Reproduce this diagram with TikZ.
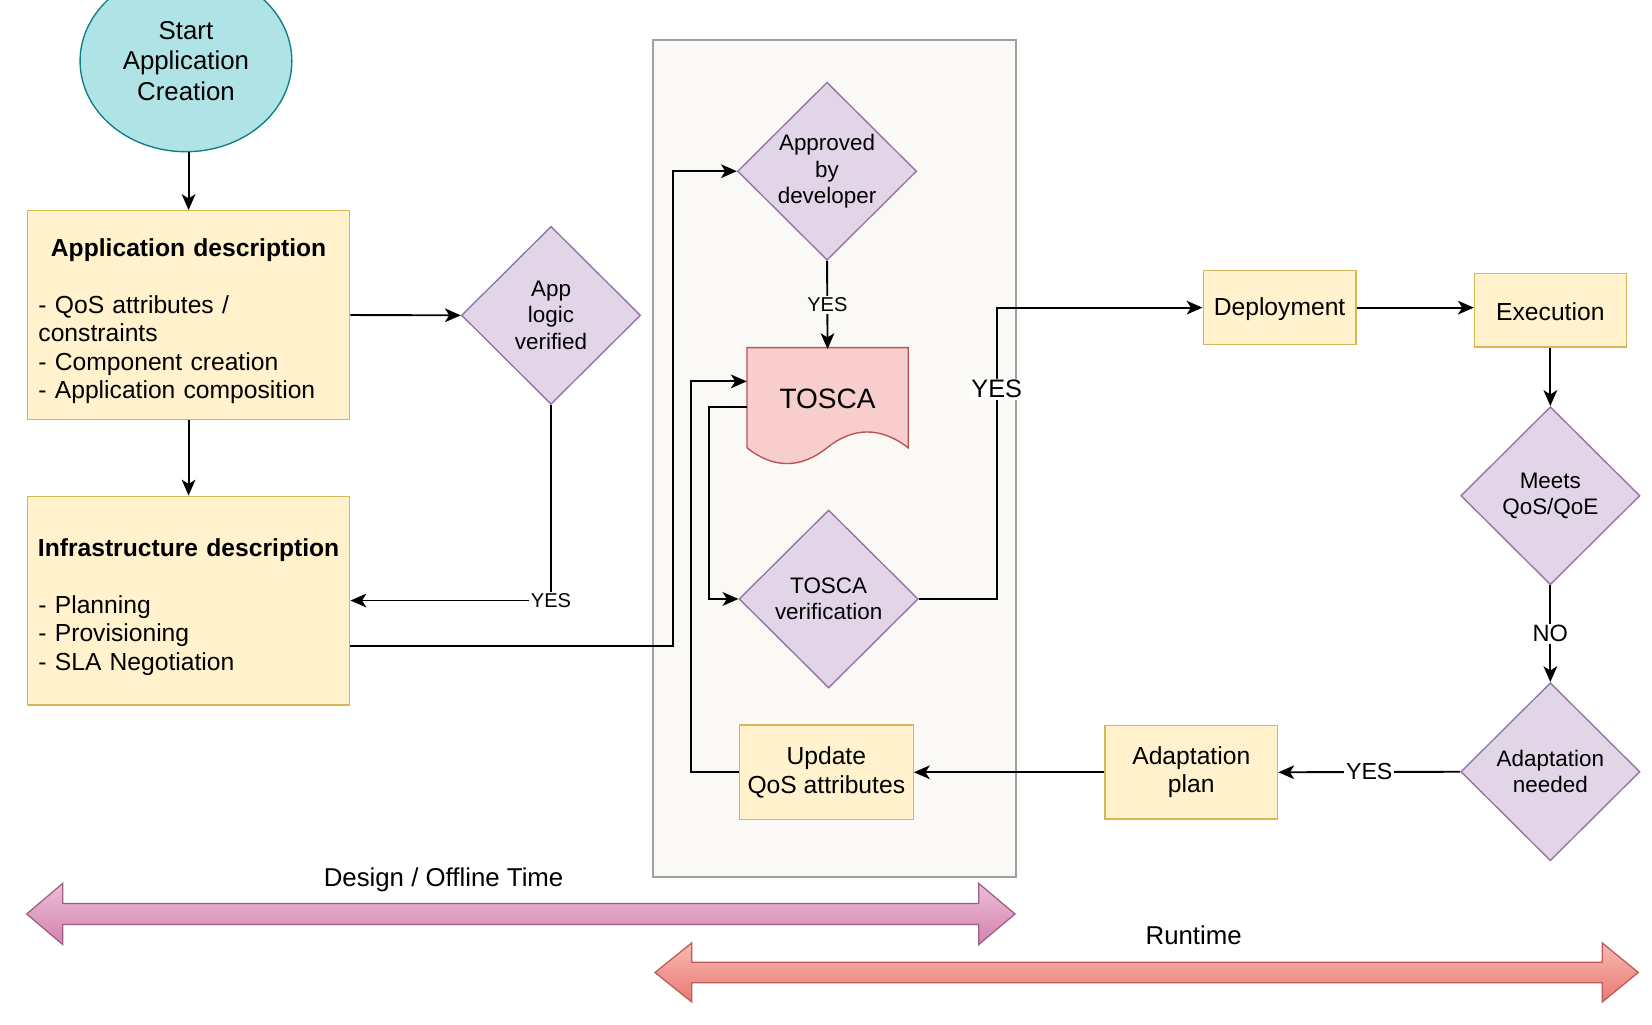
\documentclass[tikz,border=0pt]{standalone}
\usepackage{fontspec}
\setmainfont{Liberation Sans}
\usetikzlibrary{shapes.geometric,arrows.meta}

\definecolor{boxfill}{HTML}{FFF2CC}
\definecolor{boxline}{HTML}{D6B656}
\definecolor{dfill}{HTML}{E1D5E7}
\definecolor{dline}{HTML}{9673A6}
\definecolor{efill}{HTML}{B0E3E6}
\definecolor{eline}{HTML}{0E8088}
\definecolor{tfill}{HTML}{F8CECC}
\definecolor{tline}{HTML}{B85450}
\definecolor{cfill}{HTML}{FAF9F5}
\definecolor{cline}{HTML}{A0A0A0}
\definecolor{dtop}{HTML}{EBBFD7}
\definecolor{dbot}{HTML}{D482AD}
\definecolor{dedge}{HTML}{9E5F86}
\definecolor{rtop}{HTML}{F7B9B1}
\definecolor{rbot}{HTML}{E97974}
\definecolor{redge}{HTML}{C05A58}

\begin{document}
\begin{tikzpicture}[x=1pt,y=-1pt,
  box/.style={draw=boxline, fill=boxfill, line width=1.3pt, inner sep=0pt, align=center, font=\fontsize{23.4}{27}\selectfont},
  dec/.style={diamond, draw=dline, fill=dfill, line width=1.3pt, inner sep=0pt, minimum width=170pt, minimum height=169pt, align=center, font=\fontsize{21.3}{25}\selectfont},
  conn/.style={line width=1.8pt, -{Stealth[length=15pt,width=13pt,inset=4pt]}},
  lbl/.style={fill=white, inner sep=1.5pt, font=\fontsize{19}{22}\selectfont},
  bandlbl/.style={font=\fontsize{24.5}{28}\selectfont},
]
\clip (0,0) rectangle (1568,972);
\fill[white] (0,0) rectangle (1568,972);

% container
\draw[draw=cline, fill=cfill, line width=2pt] (620,38) rectangle (964,832);

% TOSCA document shape
\draw[draw=tline, fill=tfill, line width=1.3pt]
  (709,330) -- (862,330) -- (862,425)
  .. controls (836,405) and (810,405) .. (785,425)
  .. controls (760,445) and (734,445) .. (709,425) -- cycle;
\node[font=\fontsize{26.6}{30}\selectfont, minimum width=153pt, minimum height=95pt, inner sep=0pt] (tosca) at (785.5,379) {TOSCA};

% nodes
\node[ellipse, draw=eline, fill=efill, line width=1.3pt, minimum width=201pt, minimum height=172pt, inner sep=0pt, align=center, font=\fontsize{24.5}{29}\selectfont] (start) at (176.5,58) {Start\\Application\\Creation};

\node[box, minimum width=306pt, minimum height=198pt, text width=285pt, align=left] (appdesc) at (179,299)
  {\makebox[285pt]{\rule{0pt}{29pt}\bfseries Application description}\\[27pt]- QoS attributes /\\constraints\\- Component creation\\- Application composition};

\node[box, minimum width=306pt, minimum height=198pt, text width=285pt, align=left] (infra) at (179,570)
  {\makebox[285pt]{\rule{0pt}{29pt}\bfseries Infrastructure description}\\[27pt]- Planning\\- Provisioning\\- SLA Negotiation};

\node[dec] (applogic) at (523,299.3) {App\\logic\\verified};
\node[dec] (approved) at (785,162.5) {Approved\\by\\developer};
\node[dec] (tverif) at (786.5,568.5) {TOSCA\\verification};
\node[dec] (meets) at (1471.5,470.5) {Meets\\QoS/QoE};
\node[dec] (adapt) at (1471.5,732.5) {Adaptation\\needed};

\node[box, minimum width=165pt, minimum height=90pt] (update) at (784.3,733) {Update\\QoS attributes};
\node[box, minimum width=145pt, minimum height=70pt] (deploy) at (1214.5,292) {\rule{0pt}{19pt}Deployment};
\node[box, minimum width=144pt, minimum height=70pt] (exec) at (1471.5,294.5) {\rule{0pt}{19pt}Execution};
\node[box, minimum width=164pt, minimum height=89pt] (plan) at (1130.7,733) {Adaptation\\plan};

% connectors
\draw[conn] (start.south -| appdesc.north) -- (appdesc.north);
\draw[conn] (appdesc.south) -- (infra.north);
\draw[conn] (appdesc.east) -- (applogic.west);
\draw[conn] (applogic.south) |- node[lbl, pos=0.5] {YES} (infra.east);
\draw[conn] ([yshift=-43pt]infra.east) -- (639,613) |- (approved.west);
\draw[conn] (approved.south) -- node[lbl, fill=cfill, pos=0.5] {YES} (tosca.north);
\draw[conn] (update.west) -- ++(-45,0) |- ([yshift=17pt]tosca.west);
\draw[conn] ([yshift=-7pt]tosca.west) -- ++(-36,0) |- (tverif.west);
\draw[conn] (tverif.east) -- (946,568.5) -- node[lbl, pos=0.72, font=\fontsize{24}{28}\selectfont] {YES} (946,292) -- (deploy.west);
\draw[conn] (deploy.east) -- (deploy.east -| exec.west);
\draw[conn] (exec.south) -- (meets.north);
\draw[conn] (meets.south) -- node[lbl, font=\fontsize{22.4}{26}\selectfont] {NO} (adapt.north);
\draw[conn] (adapt.west) -- node[lbl, font=\fontsize{22}{26}\selectfont] {YES} (plan.east);
\draw[conn] (plan.west) -- (update.east);

% time bands
\path[draw=dedge, line width=1.2pt, top color=dtop, bottom color=dbot]
  (25.3,867.5) -- (59.5,838.5) -- (59.5,857.5) -- (929,857.5) -- (929,838.5) -- (963.4,867.5)
  -- (929,896.5) -- (929,877.5) -- (59.5,877.5) -- (59.5,896.5) -- cycle;
\path[draw=redge, line width=1.2pt, top color=rtop, bottom color=rbot]
  (621.7,923) -- (656.5,895) -- (656.5,913.3) -- (1520.8,913.3) -- (1520.8,895) -- (1555,923)
  -- (1520.8,951) -- (1520.8,932.7) -- (656.5,932.7) -- (656.5,951) -- cycle;
\node[bandlbl] (designlbl) at (421,835) {Design / Offline Time};
\node[bandlbl] (runlbl) at (1133,888) {Runtime};
\end{tikzpicture}
\end{document}
